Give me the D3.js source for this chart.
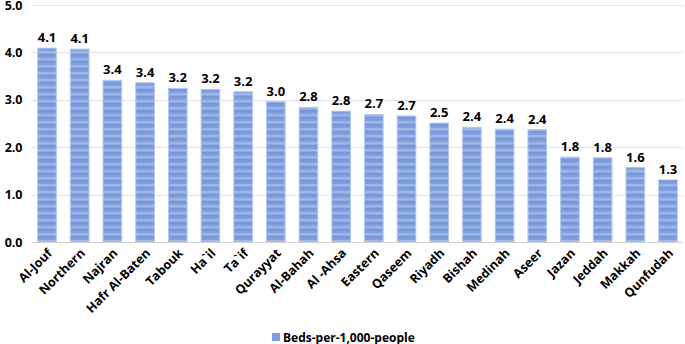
<!DOCTYPE html>
<html>
<head>
<meta charset="utf-8">
<script src="https://cdn.jsdelivr.net/npm/d3@7"></script>
<style>
  body { margin: 0; background: #fff; }
  svg text { font-family: "Open Sans", Lato, sans-serif; font-weight: bold; fill: #000; }
</style>
</head>
<body>
<svg id="chart" width="685" height="344"></svg>
<script>
const regions = ["Al-Jouf", "Northern", "Najran", "Hafr Al-Baten", "Tabouk", "Ha`il", "Ta`if", "Qurayyat",
  "Al-Bahah", "Al -Ahsa", "Eastern", "Qaseem", "Riyadh", "Bishah", "Medinah", "Aseer", "Jazan", "Jeddah",
  "Makkah", "Qunfudah"];
const bedsPer1000 = [4.09, 4.07, 3.41, 3.36, 3.24, 3.22, 3.17, 2.96, 2.84, 2.76, 2.69, 2.66, 2.51, 2.42,
  2.38, 2.37, 1.79, 1.78, 1.57, 1.31];
const yTicks = [0, 1, 2, 3, 4, 5];
const seriesName = "Beds-per-1,000-people";

const data = regions.map((r, i) => ({ region: r, value: bedsPer1000[i] }));

const svg = d3.select("#chart");
const margin = { left: 30.5, right: 0.5, top: 5, bottom: 102 };
const W = 685, H = 344;

const x = d3.scaleBand()
  .domain(regions)
  .range([margin.left, W - margin.right])
  .paddingInner(0.43)
  .paddingOuter(0.22);

const y = d3.scaleLinear()
  .domain([0, 5])
  .range([H - margin.bottom, margin.top]);

// striped fill like the original
const defs = svg.append("defs");
const pat = defs.append("pattern")
  .attr("id", "stripes")
  .attr("patternUnits", "userSpaceOnUse")
  .attr("width", 40).attr("height", 7);
pat.append("rect").attr("width", 40).attr("height", 7).attr("fill", "#7f9fdf");
pat.append("rect").attr("y", 2).attr("width", 40).attr("height", 2.5).attr("fill", "#9db6e8");
pat.append("rect").attr("y", 5.5).attr("width", 40).attr("height", 1).attr("fill", "#6f90d6");

// gridlines
svg.append("g")
  .selectAll("line")
  .data(yTicks.filter(d => d > 0))
  .join("line")
  .attr("x1", margin.left + 1).attr("x2", W - 2)
  .attr("y1", d => Math.round(y(d)) + 0.5).attr("y2", d => Math.round(y(d)) + 0.5)
  .attr("stroke", "#e3e3e3").attr("stroke-width", 1);

// y axis labels
const yAxis = svg.append("g")
  .attr("transform", `translate(${margin.left}, 0)`)
  .call(d3.axisLeft(y).tickValues(yTicks).tickFormat(d3.format(".1f")).tickSize(0).tickPadding(8));
yAxis.select(".domain").remove();
yAxis.selectAll("text").style("font-size", "12.5px");

// bars
svg.append("g")
  .selectAll("rect")
  .data(data)
  .join("rect")
  .attr("x", d => x(d.region))
  .attr("width", x.bandwidth())
  .attr("y", d => y(d.value))
  .attr("height", d => y(0) - y(d.value))
  .attr("fill", "url(#stripes)")
  .attr("stroke", "#b3c6ee")
  .attr("stroke-width", 1);

// baseline
svg.append("line")
  .attr("x1", margin.left + 1).attr("x2", W - 2)
  .attr("y1", Math.round(y(0)) + 0.5).attr("y2", Math.round(y(0)) + 0.5)
  .attr("stroke", "#d0d0d0");

// value labels
svg.append("g")
  .selectAll("text")
  .data(data)
  .join("text")
  .attr("x", d => x(d.region) + x.bandwidth() / 2)
  .attr("y", d => y(d.value) - 6)
  .attr("text-anchor", "middle")
  .style("font-size", "13px")
  .text(d => d3.format(".1f")(d.value));

// category labels, rotated
svg.append("g")
  .selectAll("text")
  .data(regions)
  .join("text")
  .attr("transform", d => `translate(${x(d) + x.bandwidth() / 2 + 6}, ${y(0) + 12}) rotate(-45)`)
  .attr("text-anchor", "end")
  .style("font-size", "12.5px")
  .text(d => d);

// legend
const legend = svg.append("g").attr("transform", "translate(272, 333)");
legend.append("rect").attr("width", 8).attr("height", 8).attr("fill", "#7f9fdf");
legend.append("text").attr("x", 11).attr("y", 8.5).style("font-size", "12px").text(seriesName);
</script>
</body>
</html>
